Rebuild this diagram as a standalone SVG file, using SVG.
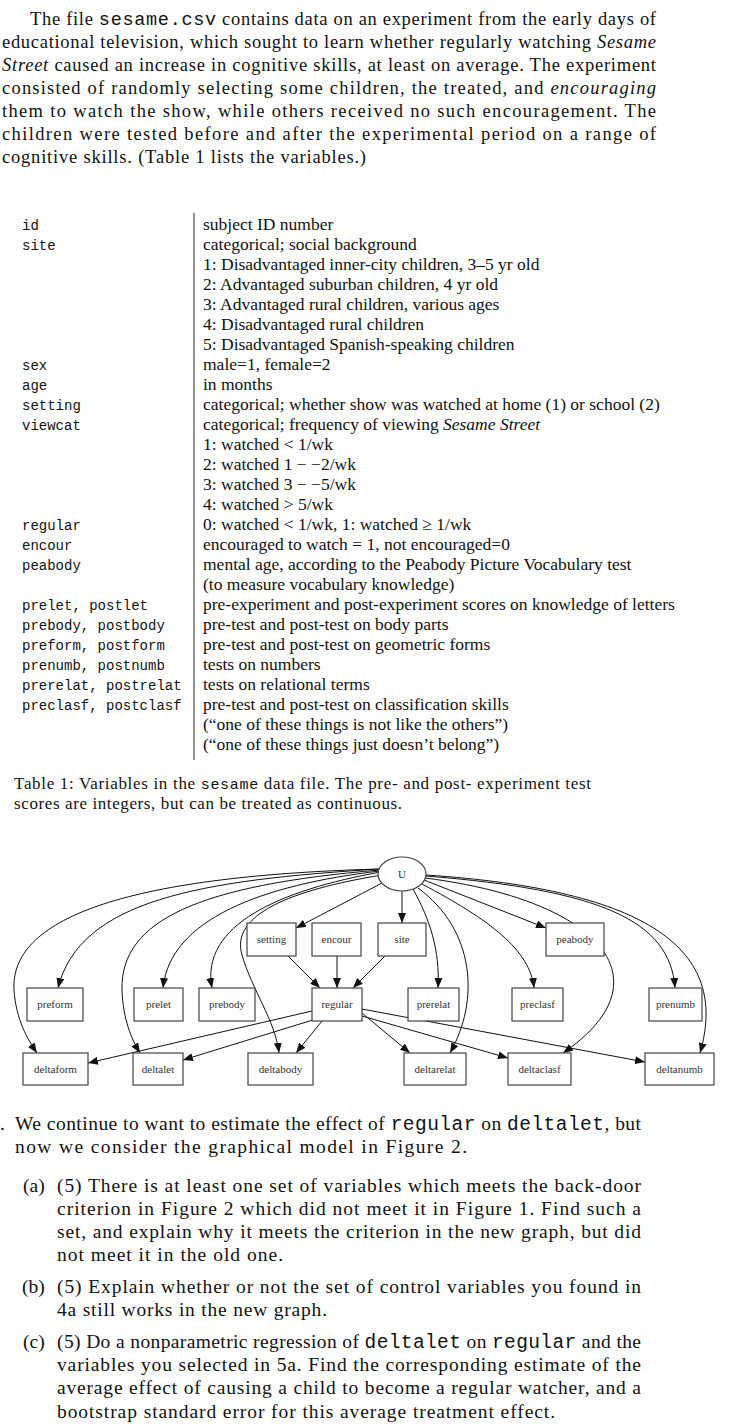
<svg xmlns="http://www.w3.org/2000/svg" width="736" height="1426" viewBox="0 0 736 1426">
<style>
.t{font-family:"Liberation Serif",serif;font-size:18.5px;fill:#111}
.q{font-family:"Liberation Serif",serif;font-size:19.5px;fill:#111}
.m{font-family:"Liberation Mono",monospace}
.i{font-style:italic}
.tl{font-family:"Liberation Mono",monospace;font-size:14px;fill:#111}
.tr{font-family:"Liberation Serif",serif;font-size:17.5px;fill:#111}
.cap{font-family:"Liberation Serif",serif;font-size:17px;fill:#111}
.box{fill:#fff;stroke:#444;stroke-width:1.2}
.nl{font-family:"Liberation Serif",serif;font-size:11px;fill:#333;text-anchor:middle}
.e{fill:none;stroke:#111;stroke-width:1;marker-end:url(#ah)}
</style>
<defs><marker id="ah" markerUnits="userSpaceOnUse" markerWidth="10" markerHeight="8" refX="10" refY="4" orient="auto"><path d="M0,0 L10,4 L0,8 z" fill="#111"/></marker></defs>
<rect width="736" height="1426" fill="#fff"/>
<g id="intro">
<text class="t" x="30" y="25" textLength="626" lengthAdjust="spacing">The file <tspan class="m">sesame.csv</tspan> contains data on an experiment from the early days of</text>
<text class="t" x="2" y="48" textLength="654" lengthAdjust="spacing">educational television, which sought to learn whether regularly watching <tspan class="i">Sesame</tspan></text>
<text class="t" x="2" y="71" textLength="654" lengthAdjust="spacing"><tspan class="i">Street</tspan> caused an increase in cognitive skills, at least on average. The experiment</text>
<text class="t" x="2" y="94" textLength="654" lengthAdjust="spacing">consisted of randomly selecting some children, the treated, and <tspan class="i">encouraging</tspan></text>
<text class="t" x="2" y="117" textLength="654" lengthAdjust="spacing">them to watch the show, while others received no such encouragement. The</text>
<text class="t" x="2" y="140" textLength="654" lengthAdjust="spacing">children were tested before and after the experimental period on a range of</text>
<text class="t" x="2" y="163" textLength="364" lengthAdjust="spacing">cognitive skills. (Table 1 lists the variables.)</text>
</g>
<g id="table">
<line x1="194" y1="213" x2="194" y2="760" stroke="#222" stroke-width="1"/>
<text class="tl" x="22" y="230">id</text>
<text class="tl" x="22" y="250">site</text>
<text class="tl" x="22" y="370">sex</text>
<text class="tl" x="22" y="390">age</text>
<text class="tl" x="22" y="410">setting</text>
<text class="tl" x="22" y="430">viewcat</text>
<text class="tl" x="22" y="530">regular</text>
<text class="tl" x="22" y="550">encour</text>
<text class="tl" x="22" y="570">peabody</text>
<text class="tl" x="22" y="610">prelet, postlet</text>
<text class="tl" x="22" y="630">prebody, postbody</text>
<text class="tl" x="22" y="650">preform, postform</text>
<text class="tl" x="22" y="670">prenumb, postnumb</text>
<text class="tl" x="22" y="690">prerelat, postrelat</text>
<text class="tl" x="22" y="710">preclasf, postclasf</text>
<text class="tr" x="203" y="230">subject ID number</text>
<text class="tr" x="203" y="250">categorical; social background</text>
<text class="tr" x="203" y="270">1: Disadvantaged inner-city children, 3–5 yr old</text>
<text class="tr" x="203" y="290">2: Advantaged suburban children, 4 yr old</text>
<text class="tr" x="203" y="310">3: Advantaged rural children, various ages</text>
<text class="tr" x="203" y="330">4: Disadvantaged rural children</text>
<text class="tr" x="203" y="350">5: Disadvantaged Spanish-speaking children</text>
<text class="tr" x="203" y="370">male=1, female=2</text>
<text class="tr" x="203" y="390">in months</text>
<text class="tr" x="203" y="410">categorical; whether show was watched at home (1) or school (2)</text>
<text class="tr" x="203" y="430">categorical; frequency of viewing <tspan class="i">Sesame Street</tspan></text>
<text class="tr" x="203" y="450">1: watched &lt; 1/wk</text>
<text class="tr" x="203" y="470">2: watched 1 − −2/wk</text>
<text class="tr" x="203" y="490">3: watched 3 − −5/wk</text>
<text class="tr" x="203" y="510">4: watched &gt; 5/wk</text>
<text class="tr" x="203" y="530">0: watched &lt; 1/wk, 1: watched ≥ 1/wk</text>
<text class="tr" x="203" y="550">encouraged to watch = 1, not encouraged=0</text>
<text class="tr" x="203" y="570">mental age, according to the Peabody Picture Vocabulary test</text>
<text class="tr" x="203" y="590">(to measure vocabulary knowledge)</text>
<text class="tr" x="203" y="610">pre-experiment and post-experiment scores on knowledge of letters</text>
<text class="tr" x="203" y="630">pre-test and post-test on body parts</text>
<text class="tr" x="203" y="650">pre-test and post-test on geometric forms</text>
<text class="tr" x="203" y="670">tests on numbers</text>
<text class="tr" x="203" y="690">tests on relational terms</text>
<text class="tr" x="203" y="710">pre-test and post-test on classification skills</text>
<text class="tr" x="203" y="730">(“one of these things is not like the others”)</text>
<text class="tr" x="203" y="750">(“one of these things just doesn’t belong”)</text>
</g>
<g id="caption">
<text class="cap" x="14" y="789" textLength="577" lengthAdjust="spacing">Table 1: Variables in the <tspan class="m" font-size="15">sesame</tspan> data file. The pre- and post- experiment test</text>
<text class="cap" x="14" y="809" textLength="388" lengthAdjust="spacing">scores are integers, but can be treated as continuous.</text>
</g>
<g id="connectors">
<path class="e" d="M380,869 C200,880 80,900 58,988"/>
<path class="e" d="M380,869 C120,876 10,920 14,990 C16,1020 28,1040 37,1053"/>
<path class="e" d="M380,870 C200,885 120,920 122,990 C123,1020 132,1040 140,1053"/>
<path class="e" d="M380,871 C260,885 170,920 163,988"/>
<path class="e" d="M381,872 C280,890 200,925 212,988"/>
<path class="e" d="M382,875 C290,890 230,915 242,955 C252,990 275,1020 279,1053"/>
<path class="e" d="M384,882 L296,928"/>
<path class="e" d="M402,891 L402,923"/>
<path class="e" d="M413,889 C430,920 440,950 438,988"/>
<path class="e" d="M418,888 C475,930 480,1000 450,1053"/>
<path class="e" d="M422,884 C490,920 530,950 534,988"/>
<path class="e" d="M424,880 L546,928"/>
<path class="e" d="M425,878 C600,900 670,980 563,1053"/>
<path class="e" d="M426,876 C600,890 670,920 675,988"/>
<path class="e" d="M426,875 C650,890 730,950 700,1053"/>
<path class="e" d="M288,956 L320,988"/>
<path class="e" d="M337,956 L337,988"/>
<path class="e" d="M385,956 L353,988"/>
<path class="e" d="M312,1011 L88,1063"/>
<path class="e" d="M316,1019 L183,1060"/>
<path class="e" d="M322,1021 L296,1053"/>
<path class="e" d="M362,1013 L410,1053"/>
<path class="e" d="M362,1016 L508,1058"/>
<path class="e" d="M362,1009 L645,1062"/>
</g>
<g id="U"><ellipse cx="402" cy="874" rx="24" ry="17" fill="#fff" stroke="#444" stroke-width="1.2"/><text class="nl" x="402" y="878">U</text></g>
<g id="setting"><rect class="box" x="247" y="923" width="49" height="33"/><text class="nl" x="271.5" y="943">setting</text></g>
<g id="encour"><rect class="box" x="312" y="923" width="49" height="33"/><text class="nl" x="336.5" y="943">encour</text></g>
<g id="site"><rect class="box" x="378" y="923" width="48" height="33"/><text class="nl" x="402" y="943">site</text></g>
<g id="peabody"><rect class="box" x="546" y="923" width="58" height="33"/><text class="nl" x="575" y="943">peabody</text></g>
<g id="preform"><rect class="box" x="27" y="988" width="56" height="33"/><text class="nl" x="55" y="1008">preform</text></g>
<g id="prelet"><rect class="box" x="134" y="988" width="49" height="33"/><text class="nl" x="158.5" y="1008">prelet</text></g>
<g id="prebody"><rect class="box" x="199" y="988" width="56" height="33"/><text class="nl" x="227" y="1008">prebody</text></g>
<g id="regular"><rect class="box" x="312" y="988" width="50" height="33"/><text class="nl" x="337" y="1008">regular</text></g>
<g id="prerelat"><rect class="box" x="408" y="988" width="51" height="33"/><text class="nl" x="433.5" y="1008">prerelat</text></g>
<g id="preclasf"><rect class="box" x="512" y="988" width="51" height="33"/><text class="nl" x="537.5" y="1008">preclasf</text></g>
<g id="prenumb"><rect class="box" x="649" y="988" width="53" height="33"/><text class="nl" x="675.5" y="1008">prenumb</text></g>
<g id="deltaform"><rect class="box" x="23" y="1053" width="65" height="32"/><text class="nl" x="55.5" y="1073">deltaform</text></g>
<g id="deltalet"><rect class="box" x="133" y="1053" width="50" height="32"/><text class="nl" x="158" y="1073">deltalet</text></g>
<g id="deltabody"><rect class="box" x="248" y="1053" width="65" height="32"/><text class="nl" x="280.5" y="1073">deltabody</text></g>
<g id="deltarelat"><rect class="box" x="404" y="1053" width="62" height="32"/><text class="nl" x="435" y="1073">deltarelat</text></g>
<g id="deltaclasf"><rect class="box" x="508" y="1053" width="63" height="32"/><text class="nl" x="539.5" y="1073">deltaclasf</text></g>
<g id="deltanumb"><rect class="box" x="645" y="1053" width="69" height="32"/><text class="nl" x="679.5" y="1073">deltanumb</text></g>
<g id="question">
<text class="q" x="0" y="1130">.</text>
<text class="q" x="15" y="1130" textLength="626" lengthAdjust="spacing">We continue to want to estimate the effect of <tspan class="m">regular</tspan> on <tspan class="m">deltalet</tspan>, but</text>
<text class="q" x="15" y="1153" textLength="452" lengthAdjust="spacing">now we consider the graphical model in Figure 2.</text>
<text class="q" x="23" y="1192">(a)</text>
<text class="q" x="57" y="1192" textLength="584" lengthAdjust="spacing">(5) There is at least one set of variables which meets the back-door</text>
<text class="q" x="57" y="1215" textLength="584" lengthAdjust="spacing">criterion in Figure 2 which did not meet it in Figure 1. Find such a</text>
<text class="q" x="57" y="1238" textLength="584" lengthAdjust="spacing">set, and explain why it meets the criterion in the new graph, but did</text>
<text class="q" x="57" y="1261" textLength="226" lengthAdjust="spacing">not meet it in the old one.</text>
<text class="q" x="22" y="1293">(b)</text>
<text class="q" x="57" y="1293" textLength="584" lengthAdjust="spacing">(5) Explain whether or not the set of control variables you found in</text>
<text class="q" x="57" y="1316" textLength="270" lengthAdjust="spacing">4a still works in the new graph.</text>
<text class="q" x="23" y="1348">(c)</text>
<text class="q" x="57" y="1348" textLength="584" lengthAdjust="spacing">(5) Do a nonparametric regression of <tspan class="m">deltalet</tspan> on <tspan class="m">regular</tspan> and the</text>
<text class="q" x="57" y="1371" textLength="584" lengthAdjust="spacing">variables you selected in 5a. Find the corresponding estimate of the</text>
<text class="q" x="57" y="1394" textLength="584" lengthAdjust="spacing">average effect of causing a child to become a regular watcher, and a</text>
<text class="q" x="57" y="1418" textLength="498" lengthAdjust="spacing">bootstrap standard error for this average treatment effect.</text>
</g>
</svg>
